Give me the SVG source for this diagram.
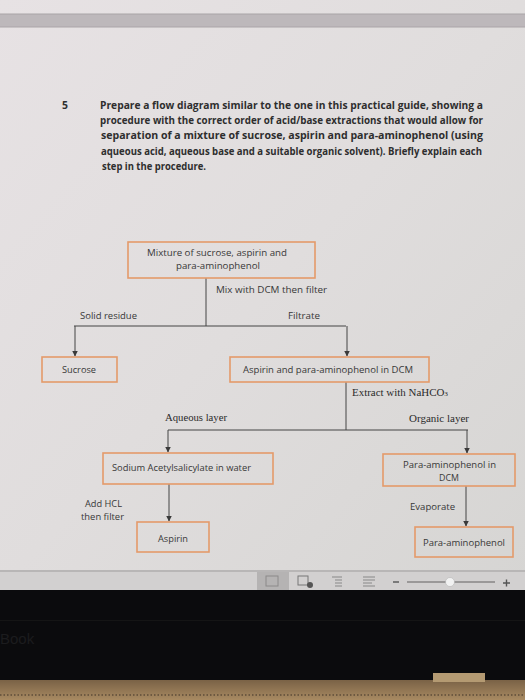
<svg xmlns="http://www.w3.org/2000/svg" width="525" height="700" viewBox="0 0 525 700">
<defs>
<linearGradient id="page" x1="0" y1="0" x2="1" y2="1">
<stop offset="0" stop-color="#e7e2e4"/>
<stop offset="0.5" stop-color="#e0dddd"/>
<stop offset="1" stop-color="#d6d5d3"/>
</linearGradient>
<linearGradient id="gold" x1="0" y1="0" x2="0" y2="1">
<stop offset="0" stop-color="#7a6246"/>
<stop offset="1" stop-color="#a88a62"/>
</linearGradient>
<marker id="arr" viewBox="0 0 6 6" refX="5.5" refY="3" markerWidth="6" markerHeight="6" orient="auto" markerUnits="userSpaceOnUse">
<path d="M0,0 L6,3 L0,6 z" fill="#3a3a3a"/>
</marker>
<style>
.box{fill:none;stroke:#e49a6a;stroke-width:1.6}
.ln{fill:none;stroke:#444;stroke-width:1}
.t{font-family:"Open Sans","Liberation Sans",sans-serif;font-size:8.8px;fill:#383838}
.q{font-family:"Open Sans","Liberation Sans",sans-serif;font-size:10.4px;font-weight:bold;fill:#2e2e2e}
.s{font-family:"Liberation Serif","Times New Roman",serif;font-size:9.8px;fill:#2a2a2a}
.c{text-anchor:middle}
</style>
</defs>
<rect x="0" y="0" width="525" height="590" fill="url(#page)"/>
<rect x="0" y="14" width="525" height="13" fill="#bdb8bb"/>
<line x1="0" y1="14" x2="525" y2="14" stroke="#a9a4a7" stroke-width="1"/>
<line x1="0" y1="27" x2="525" y2="27" stroke="#aaa5a8" stroke-width="1"/>
<g id="question">
<text class="q" x="62" y="109">5</text>
<text class="q" x="100" y="109" textLength="383" lengthAdjust="spacingAndGlyphs">Prepare a flow diagram similar to the one in this practical guide, showing a</text>
<text class="q" x="100" y="124" textLength="383" lengthAdjust="spacingAndGlyphs">procedure with the correct order of acid/base extractions that would allow for</text>
<text class="q" x="101" y="139" textLength="382" lengthAdjust="spacingAndGlyphs">separation of a mixture of sucrose, aspirin and para-aminophenol (using</text>
<text class="q" x="101" y="155" textLength="381" lengthAdjust="spacingAndGlyphs">aqueous acid, aqueous base and a suitable organic solvent). Briefly explain each</text>
<text class="q" x="102" y="170" textLength="104" lengthAdjust="spacingAndGlyphs">step in the procedure.</text>
</g>
<g id="connectors">
<line class="ln" x1="206" y1="278" x2="206" y2="326"/>
<line class="ln" x1="74" y1="326" x2="346" y2="326"/>
<line class="ln" x1="75" y1="326" x2="75" y2="356" marker-end="url(#arr)"/>
<line class="ln" x1="347" y1="326" x2="347" y2="356" marker-end="url(#arr)"/>
<line class="ln" x1="346" y1="382" x2="346" y2="430"/>
<line class="ln" x1="168" y1="430" x2="468" y2="430"/>
<line class="ln" x1="168" y1="430" x2="168" y2="452" marker-end="url(#arr)"/>
<line class="ln" x1="467" y1="430" x2="467" y2="453" marker-end="url(#arr)"/>
<line class="ln" x1="169" y1="484" x2="169" y2="521" marker-end="url(#arr)"/>
<line class="ln" x1="466" y1="486" x2="466" y2="526" marker-end="url(#arr)"/>
<text class="t" x="216" y="293" textLength="111" lengthAdjust="spacingAndGlyphs">Mix with DCM then filter</text>
<text class="t" x="80" y="319" textLength="57" lengthAdjust="spacingAndGlyphs">Solid residue</text>
<text class="t" x="288" y="319" textLength="32" lengthAdjust="spacingAndGlyphs">Filtrate</text>
<text class="s" x="352" y="396" textLength="96" lengthAdjust="spacingAndGlyphs">Extract with NaHCO<tspan font-size="6.5px">3</tspan></text>
<text class="s" x="165" y="421" textLength="62" lengthAdjust="spacingAndGlyphs">Aqueous layer</text>
<text class="s" x="409" y="422" textLength="60" lengthAdjust="spacingAndGlyphs">Organic layer</text>
<text class="t" x="85" y="507" textLength="37" lengthAdjust="spacingAndGlyphs">Add HCL</text>
<text class="t" x="81" y="520" textLength="43" lengthAdjust="spacingAndGlyphs">then filter</text>
<text class="t" x="410" y="510" textLength="45" lengthAdjust="spacingAndGlyphs">Evaporate</text>
</g>
<g id="mixture">
<rect class="box" x="128" y="242" width="187" height="36"/>
<text class="t" x="147" y="256" textLength="140" lengthAdjust="spacingAndGlyphs">Mixture of sucrose, aspirin and</text>
<text class="t" x="176" y="269" textLength="84" lengthAdjust="spacingAndGlyphs">para-aminophenol</text>
</g>
<g id="sucrose">
<rect class="box" x="42" y="357" width="75" height="25"/>
<text class="t" x="62" y="373" textLength="34" lengthAdjust="spacingAndGlyphs">Sucrose</text>
</g>
<g id="aspirin-pap-dcm">
<rect class="box" x="230" y="357" width="199" height="25"/>
<text class="t" x="243" y="373" textLength="170" lengthAdjust="spacingAndGlyphs">Aspirin and para-aminophenol in DCM</text>
</g>
<g id="sodium-acetylsalicylate">
<rect class="box" x="103" y="453" width="170" height="31"/>
<text class="t" x="112" y="471" textLength="139" lengthAdjust="spacingAndGlyphs">Sodium Acetylsalicylate in water</text>
</g>
<g id="pap-dcm">
<rect class="box" x="383" y="454" width="132" height="32"/>
<text class="t" x="403" y="468" textLength="93" lengthAdjust="spacingAndGlyphs">Para-aminophenol in</text>
<text class="t c" x="449" y="481">DCM</text>
</g>
<g id="aspirin">
<rect class="box" x="137" y="522" width="72" height="30"/>
<text class="t" x="158" y="542" textLength="30" lengthAdjust="spacingAndGlyphs">Aspirin</text>
</g>
<g id="para-aminophenol">
<rect class="box" x="415" y="527" width="98" height="30"/>
<text class="t" x="423" y="546" textLength="82" lengthAdjust="spacingAndGlyphs">Para-aminophenol</text>
</g>
<rect x="0" y="570" width="525" height="2" fill="#b8b6b6"/>
<rect x="0" y="572" width="525" height="18" fill="#d2d0d0"/>
<rect x="257" y="572" width="32" height="18" fill="#b5b3b3"/>
<rect x="266" y="576" width="12" height="10" fill="none" stroke="#8c8a8a" stroke-width="1"/>
<rect x="298" y="576" width="10" height="9" fill="none" stroke="#777" stroke-width="1"/>
<circle cx="310" cy="585" r="3" fill="#555"/>
<path d="M332 577h10M335 580h7M335 583h7M335 586h7" stroke="#888" stroke-width="1"/>
<path d="M363 577h12M363 580h12M363 583h9M363 586h12" stroke="#888" stroke-width="1"/>
<line x1="393" y1="582" x2="399" y2="582" stroke="#555" stroke-width="1.4"/>
<line x1="407" y1="582" x2="495" y2="582" stroke="#9a9898" stroke-width="2"/>
<circle cx="450" cy="582" r="4.5" fill="#f2f2f2" stroke="#aaa" stroke-width="0.5"/>
<path d="M503 583h7M506.5 579.5v7" stroke="#555" stroke-width="1.4"/>
<rect x="0" y="590" width="525" height="92" fill="#0b0b0d"/>
<rect x="0" y="620" width="525" height="1" fill="#151515"/>
<text x="0" y="644" font-family="Liberation Sans, sans-serif" font-size="15px" fill="#1c1c1e">Book</text>
<rect x="0" y="680" width="525" height="20" fill="url(#gold)"/>
<rect x="433" y="673" width="52" height="9" fill="#b49a72"/>
<line x1="0" y1="695" x2="525" y2="695" stroke="#3d3226" stroke-width="1.2" stroke-dasharray="1.5 2"/>
</svg>
